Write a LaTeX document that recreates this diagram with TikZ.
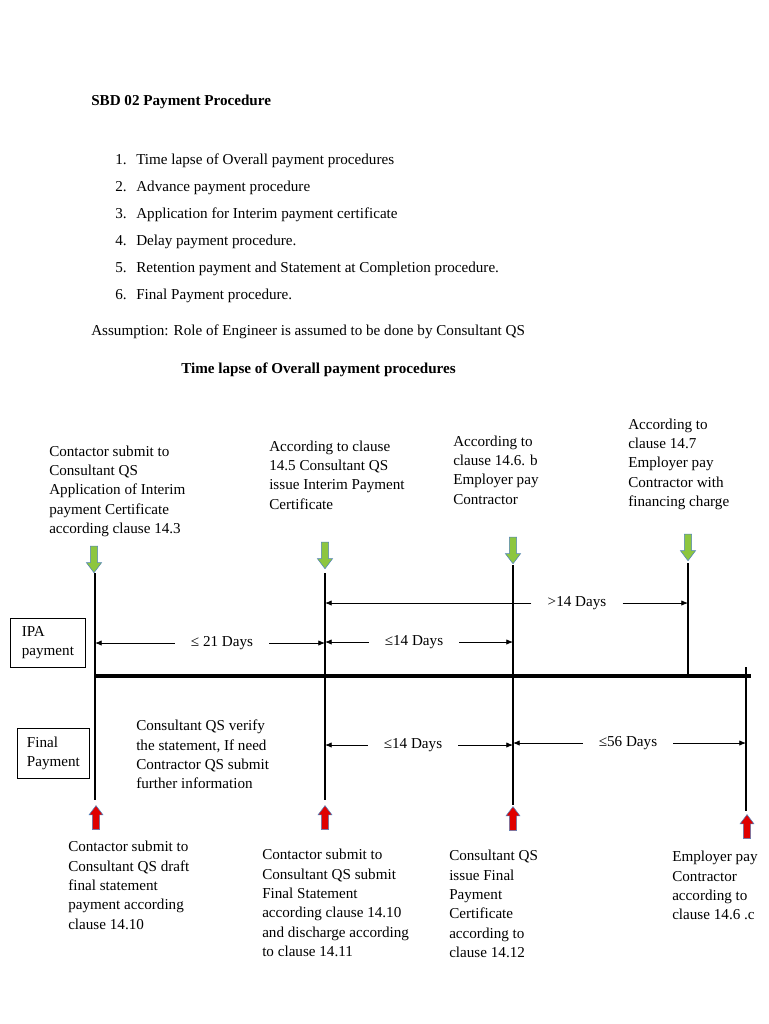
\documentclass[tikz,border=0pt]{standalone}
\usepackage{fontspec}
\setmainfont{Liberation Serif}
\usetikzlibrary{positioning,shapes.arrows,arrows.meta}
\definecolor{arrowgreen}{HTML}{8DC63F}
\definecolor{arrowred}{HTML}{E00000}
\definecolor{arrowedge}{HTML}{4F81BD}

\begin{document}
\begin{tikzpicture}[x=0.75pt,y=-0.75pt,
  txt/.style={inner sep=0pt, align=left, anchor=north west, font=\fontsize{11.35}{14.5}\selectfont},
  head/.style={inner sep=0pt, anchor=west, font=\fontsize{11.35}{14.5}\selectfont\bfseries},
  item/.style={inner sep=0pt, anchor=west, font=\fontsize{11.35}{14.5}\selectfont},
  sidebox/.style={draw, line width=0.6pt, anchor=north west, align=left, inner sep=0pt, font=\fontsize{11.35}{14.5}\selectfont},
  vline/.style={line width=1.8pt},
  dimlbl/.style={inner xsep=12pt, inner ysep=0pt, font=\fontsize{11.35}{14.5}\selectfont},
  dimarr/.style={line width=0.6pt, -{Latex[length=5pt,width=4pt]}},
  greenarr/.style={single arrow, shape border rotate=270, draw=arrowedge, fill=arrowgreen, line width=0.4pt,
    minimum height=20pt, minimum width=11pt, inner sep=2.5pt, single arrow head extend=3pt, single arrow tip angle=74},
  redarr/.style={single arrow, shape border rotate=90, draw=arrowedge, fill=arrowred, line width=0.4pt,
    minimum height=18pt, minimum width=10pt, inner sep=2.5pt, single arrow head extend=2.5pt, single arrow tip angle=74}
]
\useasboundingbox[fill=white] (0,0) rectangle (768,1024);

% heading and list
\node[head] (title) at (91,102) {SBD 02 Payment Procedure};
\node[item] (item1) at (115,161) {\makebox[15.75pt][l]{1.}Time lapse of Overall payment procedures};
\node[item] (item2) at (115,188) {\makebox[15.75pt][l]{2.}Advance payment procedure};
\node[item] (item3) at (115,215) {\makebox[15.75pt][l]{3.}Application for Interim payment certificate};
\node[item] (item4) at (115,242) {\makebox[15.75pt][l]{4.}Delay payment procedure.};
\node[item] (item5) at (115,269) {\makebox[15.75pt][l]{5.}Retention payment and Statement at Completion procedure.};
\node[item] (item6) at (115,296) {\makebox[15.75pt][l]{6.}Final Payment procedure.};
\node[item] (assume) at (91,332) {Assumption: Role of Engineer is assumed to be done by Consultant QS};
\node[head] (subtitle) at (181,370) {Time lapse of Overall payment procedures};

% upper notes
\node[txt] (ipa1) at (49,445.5) {Contactor submit to\\Consultant QS\\Application of Interim\\payment Certificate\\according clause 14.3};
\node[txt] (ipa2) at (269,440.5) {According to clause\\14.5 Consultant QS\\issue Interim Payment\\Certificate};
\node[txt] (ipa3) at (453,435.5) {According to\\clause 14.6. b\\Employer pay\\Contractor};
\node[txt] (ipa4) at (628,418.5) {According to\\clause 14.7\\Employer pay\\Contractor with\\financing charge};

% lines
\coordinate (v1t) at (95,573);  \coordinate (v1b) at (95,800);
\coordinate (v2t) at (325,573); \coordinate (v2b) at (325,800);
\coordinate (v3t) at (513,565); \coordinate (v3b) at (513,805);
\coordinate (v4t) at (688,563); \coordinate (v4b) at (688,676);
\coordinate (v5t) at (746,667); \coordinate (v5b) at (746,811);
\coordinate (hl) at (95,676);   \coordinate (hr) at (751,676);
\draw[vline] (v1t) -- (v1b);
\draw[vline] (v2t) -- (v2b);
\draw[vline] (v3t) -- (v3b);
\draw[vline] (v4t) -- (v4b);
\draw[vline] (v5t) -- (v5b);
\draw[line width=3pt] (hl) -- (hr);

% green and red markers
\node[greenarr] (g1) at (94,557) {};
\node[greenarr] (g2) at (325,553) {};
\node[greenarr] (g3) at (513,548) {};
\node[greenarr] (g4) at (688,545) {};
\node[redarr] (r1) at (96,820) {};
\node[redarr] (r2) at (325,820) {};
\node[redarr] (r3) at (513,821) {};
\node[redarr] (r4) at (747,829) {};

% side boxes
\node[sidebox, minimum width=56.25pt, minimum height=36.75pt] (ipabox) at (10,618) {IPA\\payment};
\node[sidebox, minimum width=54pt, minimum height=37.5pt] (finalbox) at (17,728) {Final\\Payment};

% durations
\node[dimlbl] (d21) at (222,643) {≤ 21 Days};
\draw[dimarr] (d21.west) -- (d21.west -| v1t);
\draw[dimarr] (d21.east) -- (d21.east -| v2t);
\node[dimlbl] (d14a) at (414,642) {≤14 Days};
\draw[dimarr] (d14a.west) -- (d14a.west -| v2t);
\draw[dimarr] (d14a.east) -- (d14a.east -| v3t);
\node[dimlbl] (d14b) at (577,603) {>14 Days};
\draw[dimarr] (d14b.west) -- (d14b.west -| v2t);
\draw[dimarr] (d14b.east) -- (d14b.east -| v4t);
\node[dimlbl] (d14c) at (413,745) {≤14 Days};
\draw[dimarr] (d14c.west) -- (d14c.west -| v2t);
\draw[dimarr] (d14c.east) -- (d14c.east -| v3t);
\node[dimlbl] (d56) at (628,743) {≤56 Days};
\draw[dimarr] (d56.west) -- (d56.west -| v3t);
\draw[dimarr] (d56.east) -- (d56.east -| v5t);

% lower notes
\node[txt] (mid) at (136,720) {Consultant QS verify\\the statement, If need\\Contractor QS submit\\further information};
\node[txt] (fin1) at (68,841) {Contactor submit to\\Consultant QS draft\\final statement\\payment according\\clause 14.10};
\node[txt] (fin2) at (262,849) {Contactor submit to\\Consultant QS submit\\Final Statement\\according clause 14.10\\and discharge according\\to clause 14.11};
\node[txt] (fin3) at (449,850) {Consultant QS\\issue Final\\Payment\\Certificate\\according to\\clause 14.12};
\node[txt] (fin4) at (672,851) {Employer pay\\Contractor\\according to\\clause 14.6 .c};
\end{tikzpicture}
\end{document}
